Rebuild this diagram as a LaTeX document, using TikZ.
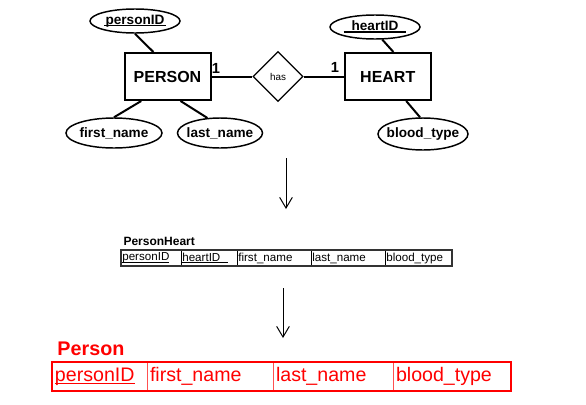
\documentclass[tikz,border=0pt]{standalone}
\usepackage{fontspec}
\setmainfont{Liberation Sans}
\usetikzlibrary{shapes.geometric,positioning,arrows.meta}
\definecolor{relred}{RGB}{255,0,0}
\definecolor{cellred}{RGB}{255,80,80}
% underlined key attribute: #1 extra kern, #2 rule thickness, #3 text
\newcommand{\keyname}[3]{\setbox0\hbox{\kern#1#3\kern#1}\rlap{\rule[-0.16em]{\wd0}{#2}}\box0}
\tikzset{every picture/.style={line width=0.75pt}}
\tikzset{
  entity/.style={draw, line width=1.5pt, inner sep=0pt, minimum width=64.5pt, minimum height=35.25pt, font=\fontsize{12}{14}\selectfont\bfseries},
  attrib/.style={draw, ellipse, line width=1.1pt, inner xsep=-4pt, inner ysep=0pt, font=\fontsize{10.2}{12}\selectfont\bfseries},
  relship/.style={draw, diamond, line width=0.9pt, inner sep=0pt, minimum width=37.5pt, minimum height=37.5pt, font=\fontsize{7.4}{9}\selectfont},
  erline/.style={line width=1.5pt},
  card/.style={inner sep=0pt, font=\fontsize{11}{13}\selectfont\bfseries},
  downarrow/.style={-{Straight Barb[length=8pt,width=9.5pt]}, line width=0.75pt},
  phcell/.style={draw, line width=0.5pt, outer sep=0pt, anchor=north west, inner xsep=1pt, inner ysep=0pt, minimum height=12pt, align=left, font=\fontsize{8.7}{10}\selectfont},
  pcell/.style={draw=cellred, text=relred, line width=0.6pt, outer sep=0pt, anchor=north west, inner xsep=2.25pt, inner ysep=0pt, minimum height=21.75pt, align=left, font=\fontsize{14.7}{17}\selectfont}
}
\begin{document}
\begin{tikzpicture}[x=0.75pt,y=0.75pt,yscale=-1,xscale=1]
\path[use as bounding box] (0,0) rectangle (586,404); %set diagram size 586 x 404

%Shape: Entities and relationship
\node[entity] (person) at (167.5,76.5) {PERSON};
\node[entity] (heart) at (387.75,76.5) {HEART};
\node[relship] (has) at (278,76.5) {has};
%Shape: Attributes
\node[attrib, minimum width=67.5pt, minimum height=18pt] (pid) at (135,21) {\keyname{1pt}{1.3pt}{personID}};
\node[attrib, minimum width=67.5pt, minimum height=18pt] (hid) at (375,27) {\keyname{6pt}{1.3pt}{heartID}};
\node[attrib, minimum width=72pt, minimum height=22.5pt] (fname) at (114,133) {first\_name};
\node[attrib, minimum width=63.75pt, minimum height=22.5pt] (lname) at (220,133) {last\_name};
\node[attrib, minimum width=67.5pt, minimum height=24pt] (blood) at (423,134) {blood\_type};
% Text Node
\node[card] (card1) at (216,68) {1};
% Text Node
\node[card] (card2) at (335,67) {1};

%Straight Lines
\draw[erline] (pid.south) -- (person.120);
\draw[erline] (person.223) -- (fname.north);
\draw[erline] (person.-62) -- (lname.130);
\draw[erline] (person.east) -- (has.west);
\draw[erline] (has.east) -- (heart.west);
\draw[erline] (hid.-60) -- (heart.77);
\draw[erline] (heart.-53) -- (blood.100);

%Arrows
\coordinate (arrowtop) at (286,158);
\coordinate (arrowtopend) at (286,209);
\draw[downarrow] (arrowtop) -- (arrowtopend);
\coordinate (arrowlow) at (283,288);
\coordinate (arrowlowend) at (283,338);
\draw[downarrow] (arrowlow) -- (arrowlowend);

%Table: PersonHeart
\node[phcell, text width=43pt] (ph1) at (121,250) {\keyname{0pt}{0.6pt}{personID}};
\node[phcell, text width=40pt] (ph2) at (ph1.north east) {\keyname{0pt}{0.6pt}{heartID\kern6pt}};
\node[phcell, text width=53.5pt] (ph3) at (ph2.north east) {first\_name};
\node[phcell, text width=53.5pt] (ph4) at (ph3.north east) {last\_name};
\node[phcell, text width=48.25pt] (ph5) at (ph4.north east) {blood\_type};
\draw[line width=1pt, black!80] (ph1.north west) rectangle (ph5.south east);
% Text Node
\node[above right=3pt and 1.5pt of ph1.north west, inner sep=0pt, font=\fontsize{9}{10}\selectfont\bfseries] (phtitle) {PersonHeart};

%Table: Person
\node[pcell, text width=66.75pt] (pc1) at (52,362) {\keyname{0pt}{1.1pt}{personID}};
\node[pcell, text width=90pt] (pc2) at (pc1.north east) {first\_name};
\node[pcell, text width=85.5pt] (pc3) at (pc2.north east) {last\_name};
\node[pcell, text width=84pt] (pc4) at (pc3.north east) {blood\_type};
\draw[relred, line width=1.5pt] (pc1.north west) rectangle (pc4.south east);
% Text Node
\node[above right=4.5pt and 3.75pt of pc1.north west, inner sep=0pt, text=relred, font=\fontsize{14.8}{17}\selectfont\bfseries] (ptitle) {Person};

\end{tikzpicture}
\end{document}
